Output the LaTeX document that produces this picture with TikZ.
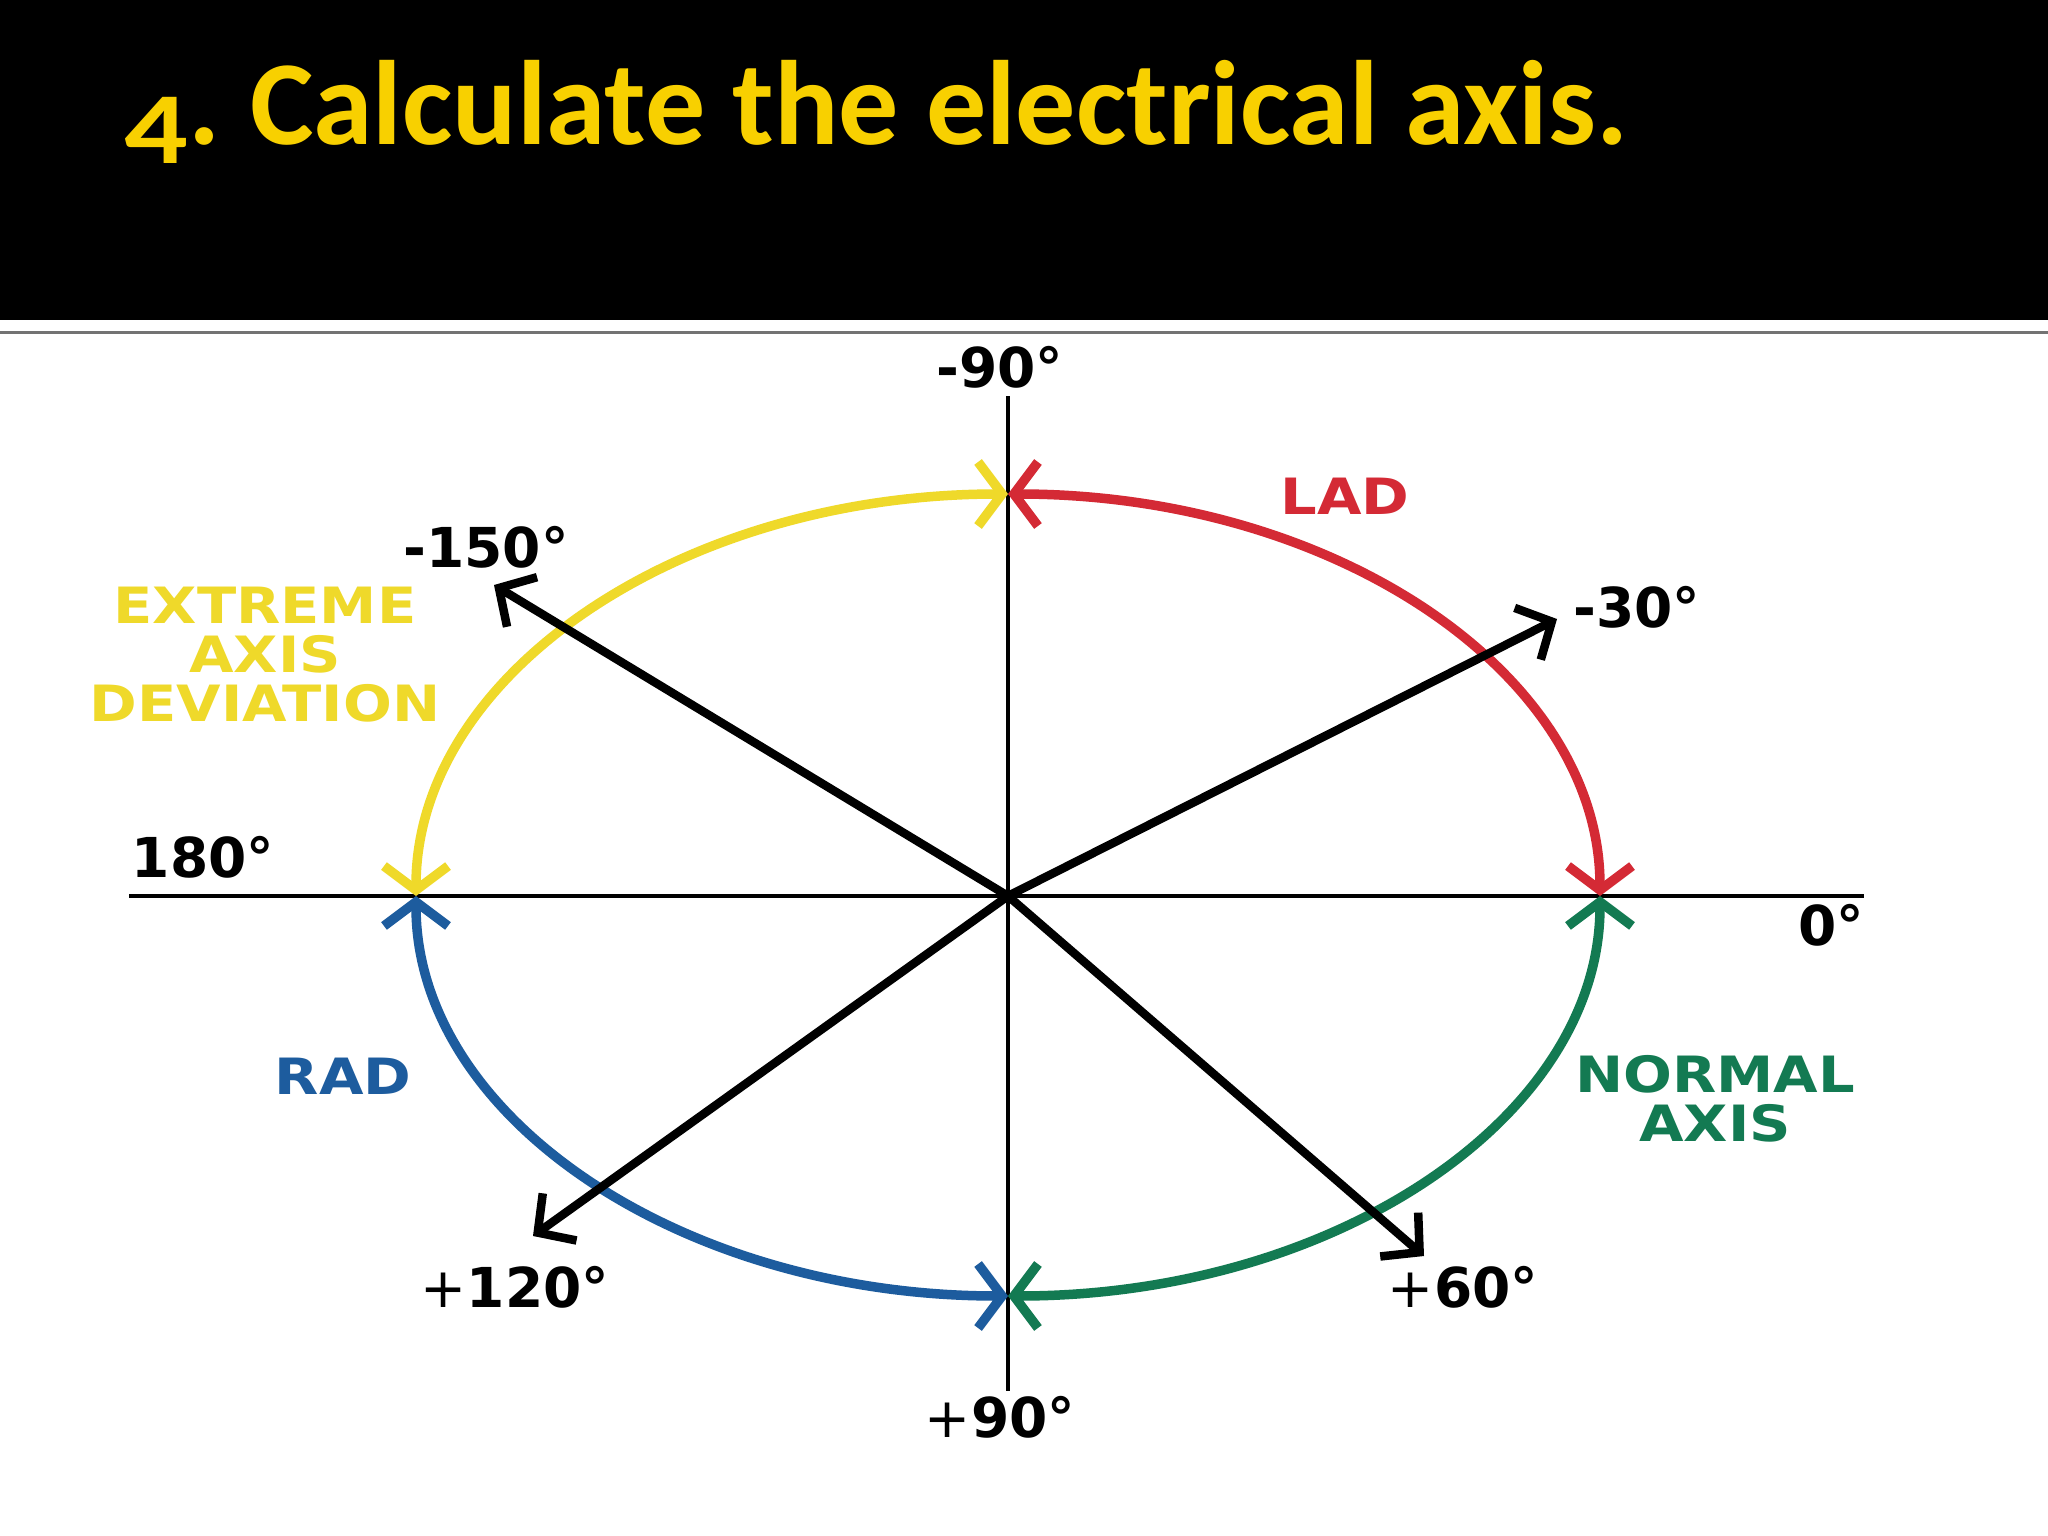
\documentclass[tikz,border=0pt]{standalone}
\usepackage{fontspec}
\setmainfont{DejaVu Sans}
\newfontfamily\titlefont{Carlito}
\usetikzlibrary{arrows.meta}
\definecolor{ttlyellow}{HTML}{F8D000}
\definecolor{eyellow}{HTML}{EFD92A}
\definecolor{ladred}{HTML}{D42A35}
\definecolor{normgreen}{HTML}{137A52}
\definecolor{radblue}{HTML}{1D5C9E}
\begin{document}
\begin{tikzpicture}[x=1pt,y=-1pt,
  barb/.tip={Straight Barb[length=24pt,width=64pt]},
  arcline/.style={line width=9.5pt,{barb}-{barb}},
  vec/.style={line width=8.5pt,-{Straight Barb[length=27pt,width=58pt]}},
  axisline/.style={line width=4pt},
  num/.style={font=\fontsize{55}{60}\selectfont\bfseries, inner sep=0pt},
  clab/.style={font=\fontsize{50}{54}\selectfont\bfseries, inner sep=0pt, align=center, xscale=1.15}
]
\useasboundingbox (0,0) rectangle (2048,1536);
\fill[white] (0,0) rectangle (2048,1536);
\fill[black] (0,0) rectangle (2048,320);
\draw[line width=3pt, black!55] (0,332) -- (2048,332);
\node[anchor=base west, inner sep=0pt, text=ttlyellow, font=\titlefont\bfseries\fontsize{120}{130}\selectfont] (title) at (124,145) {\raisebox{-19pt}{\scalebox{1.05}[0.85]{4}}.\hspace{-6pt} Calculate the electrical axis.};

% axes
\coordinate (O) at (1008,896);
\coordinate (axL) at (129,896);
\coordinate (axR) at (1864,896);
\coordinate (axT) at (1008,396);
\coordinate (axB) at (1008,1391);
\draw[axisline] (axL) -- (axR);
\draw[axisline] (axT) -- (axB);

% ellipse points
\coordinate (eL) at (416,896);
\coordinate (eR) at (1600,896);
\coordinate (eT) at (1008,494);
\coordinate (eB) at (1008,1296);

\draw[arcline, eyellow] (eL) arc[start angle=180, end angle=270, x radius=592, y radius=402];
\draw[arcline, ladred] (eR) arc[start angle=0, end angle=-90, x radius=592, y radius=402];
\draw[arcline, normgreen] (eB) arc[start angle=90, end angle=0, x radius=592, y radius=400];
\draw[arcline, radblue] (eL) arc[start angle=180, end angle=90, x radius=592, y radius=400];

% vectors
\coordinate (t30) at (1557,619);
\coordinate (t150) at (494,585);
\coordinate (t120) at (533,1236);
\coordinate (t60) at (1424,1256);
\draw[vec] (O) -- (t30);
\draw[vec] (O) -- (t150);
\draw[vec] (O) -- (t120);
\draw[vec] (O) -- (t60);

% number labels
\node[num] (l90m) at (1000,367) {-90°};
\node[num] (l150) at (486,547) {-150°};
\node[num] (l30) at (1637,607) {-30°};
\node[num] (l180) at (203,857) {180°};
\node[num] (l0) at (1831,925) {0°};
\node[num] (l120) at (515,1287) {{\mdseries+}120°};
\node[num] (l60) at (1463,1287) {{\mdseries+}60°};
\node[num] (l90p) at (1000,1417) {{\mdseries+}90°};

% coloured labels
\node[clab, text=ladred] (lad) at (1345,496) {LAD};
\node[clab, text=eyellow] (ext) at (265,655) {EXTREME\\[-5pt]AXIS\\[-5pt]DEVIATION};
\node[clab, text=radblue] (rad) at (343,1076) {RAD};
\node[clab, text=normgreen] (norm) at (1715,1099) {NORMAL\\[-5pt]AXIS};
\end{tikzpicture}
\end{document}
